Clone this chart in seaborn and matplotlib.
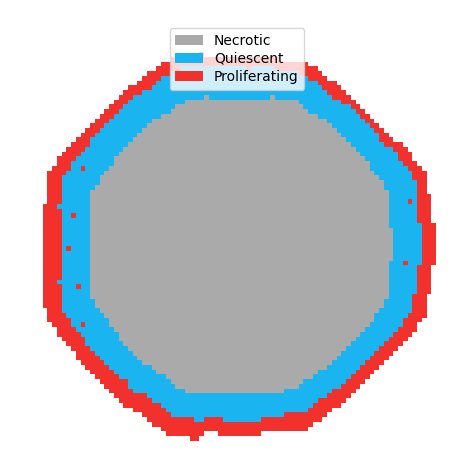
import numpy as np
import matplotlib
matplotlib.use('Agg')
import matplotlib.pyplot as plt
import seaborn as sns
from matplotlib.colors import ListedColormap
from matplotlib.patches import Patch

# grid and boundary "radii" (rounded-octagon apothem, in cells) read per 22.5 deg sector,
# starting at +x (right) going counter-clockwise (up = screen top)
grid_size = 100
center_x, center_y = 50.6, 51.6
sector_angles = np.arange(0, 360, 22.5)
necrotic_r = [32, 32, 32, 31.5, 31, 31.5, 32, 32, 32, 32, 32.5, 32, 31.5, 31.5, 32, 32]
quiescent_r = [38, 38, 37.5, 37, 37.5, 38, 38.5, 38.5, 38, 38.5, 38.5, 37.5, 37, 36.5, 37, 37.5]
prolif_r = [41, 40.5, 39.5, 39.5, 40, 40.5, 41, 41.5, 41.5, 42, 42, 41.5, 40, 40, 40, 40.5]
# some isolated proliferating cells inside the quiescent rim (col, row)
red_spots = [(20, 25), (22, 23), (17, 35), (15, 45), (16, 60), (17, 68), (26, 80), (33, 86),
             (45, 88), (60, 88), (72, 85), (80, 79), (84, 70), (85, 55), (86, 42), (82, 30),
             (75, 20), (66, 15), (52, 14), (38, 16), (28, 19), (14, 52), (87, 62), (70, 88)]

labels = ['Necrotic', 'Quiescent', 'Proliferating']
colors = ['#ffffff', '#aaaaaa', '#1ab4f0', '#f2302c']

rows, cols = np.mgrid[0:grid_size, 0:grid_size]
dx = cols + 0.5 - center_x
dy = center_y - (rows + 0.5)
octa = np.maximum(np.maximum(np.abs(dx), np.abs(dy)), (np.abs(dx) + np.abs(dy)) / np.sqrt(2) * 1.03)
euclid = np.hypot(dx, dy)
dist = 0.55 * octa + 0.45 * euclid
ang = np.degrees(np.arctan2(dy, dx)) % 360
sector = np.round(ang / 22.5).astype(int) % len(sector_angles)

state = np.zeros((grid_size, grid_size), dtype=int)
state[dist <= np.array(prolif_r)[sector]] = 3
state[dist <= np.array(quiescent_r)[sector]] = 2
state[dist <= np.array(necrotic_r)[sector]] = 1
for c, r in red_spots:
    if state[r, c] == 2:
        state[r, c] = 3

fig = plt.figure(figsize=(4.74, 4.74), dpi=100)
fig.patch.set_edgecolor('#888888')
fig.patch.set_linewidth(1.5)
ax = fig.add_axes([0, 0, 1, 1])
sns.heatmap(state, cmap=ListedColormap(colors), vmin=-0.5, vmax=3.5, cbar=False,
            xticklabels=False, yticklabels=False, ax=ax)
ax.axis('off')

handles = [Patch(facecolor=colors[i + 1], label=labels[i]) for i in range(3)]
ax.legend(handles=handles, loc='upper center', bbox_to_anchor=(0.5, 0.955),
          fontsize=10, frameon=True, handlelength=2, borderpad=0.4, labelspacing=0.3)

fig.savefig('out.png', dpi=100)
